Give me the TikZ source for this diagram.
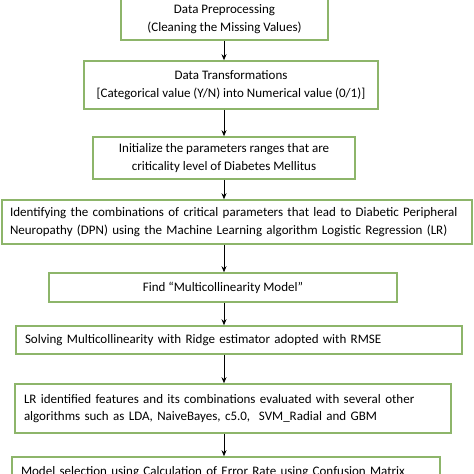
\documentclass[tikz,border=0pt]{standalone}
\usepackage{fontspec}
\setmainfont{Carlito}
\usetikzlibrary{arrows.meta}
\definecolor{boxgreen}{HTML}{8DB56A}
\tikzset{
	stepbox/.style={draw=boxgreen, line width=1.6pt, inner xsep=9pt, inner ysep=2pt, font=\fontsize{13}{17.5}\selectfont},
	flow/.style={-{Stealth[length=6pt,width=5pt]}, line width=0.8pt}
}
\begin{document}
\begin{tikzpicture}[x=1pt,y=-1pt]
	\useasboundingbox (0,0) rectangle (474,474);
	\node[stepbox, minimum width=207pt, minimum height=42pt, align=center](prep) at (224.5,19) {Data Preprocessing\\(Cleaning the Missing Values)};
	\node[stepbox, minimum width=294pt, minimum height=48pt, align=center](trans) at (231,85) {Data Transformations\\[1pt][Categorical value (Y/N) into Numerical value (0/1)]};
	\node[stepbox, minimum width=262pt, minimum height=42pt, align=center](init) at (224,158) {Initialize the parameters ranges that are\\[1pt]criticality level of Diabetes Mellitus};
	\node[stepbox, minimum height=44pt, text width=454pt, inner xsep=8pt, align=left](ident) at (237,222) {\makebox[454pt][s]{Identifying the combinations of critical parameters that lead to Diabetic Peripheral}\\Neuropathy (DPN) using the Machine Learning algorithm Logistic Regression (LR)};
	\node[stepbox, minimum width=348pt, minimum height=29pt, align=center](find) at (223,287.5) {Find “Multicollinearity Model”};
	\node[stepbox, minimum height=28pt, text width=428pt, align=left](solve) at (239,340) {Solving Multicollinearity with Ridge estimator adopted with RMSE};
	\node[stepbox, minimum height=49pt, text width=418pt, align=left](eval) at (233,408.5) {LR identified features and its combinations evaluated with several other\\algorithms such as LDA, NaiveBayes, c5.0,\ \ SVM\_Radial and GBM};
	\node[stepbox, minimum height=30pt, text width=410pt, align=left](select) at (226,472) {Model selection using Calculation of Error Rate using Confusion Matrix};
	\coordinate (ax) at (224,0);
	\draw[flow] (prep.south -| ax) -- (trans.north -| ax);
	\draw[flow] (trans.south -| ax) -- (init.north -| ax);
	\draw[flow] (init.south -| ax) -- (ident.north -| ax);
	\draw[flow] (ident.south -| ax) -- (find.north -| ax);
	\draw[flow] (find.south -| ax) -- (solve.north -| ax);
	\draw[flow] (solve.south -| ax) -- (eval.north -| ax);
	\draw[flow] (eval.south -| ax) -- (select.north -| ax);
\end{tikzpicture}
\end{document}
